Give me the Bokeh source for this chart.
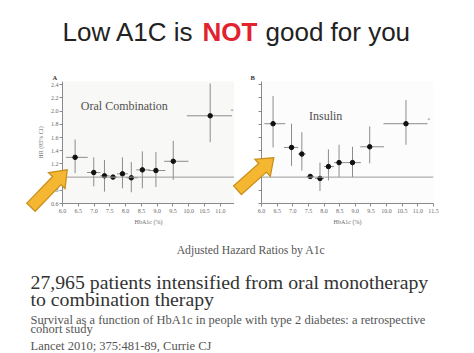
import numpy as np
from bokeh.plotting import figure
from bokeh.models import Range1d, Label, Span, FixedTicker, ColumnDataSource
from bokeh.layouts import column, row
from bokeh.embed import file_html
from bokeh.resources import INLINE

# ---------------- data ----------------
x_ticks = [6.0, 6.5, 7.0, 7.5, 8.0, 8.5, 9.0, 9.5, 10.0, 10.5, 11.0, 11.5]
x_tick_labels = ["6.0", "6.5", "7.0", "7.5", "8.0", "8.5", "9.0", "9.5", "10.0", "10.5", "11.0", "11.5"]
y_ticks = [0.6, 0.8, 1.0, 1.2, 1.4, 1.6, 1.8, 2.0, 2.2, 2.4]
y_tick_labels = ["0.6", "0.8", "1.0", "1.2", "1.4", "1.6", "1.8", "2.0", "2.2", "2.4"]

# Panel A: oral combination
oral_a1c = [6.40, 6.99, 7.33, 7.60, 7.90, 8.18, 8.53, 8.96, 9.51, 10.68]
oral_a1c_lo = [6.11, 6.78, 7.20, 7.49, 7.73, 8.02, 8.34, 8.72, 9.22, 9.94]
oral_a1c_hi = [6.80, 7.20, 7.49, 7.73, 8.07, 8.39, 8.77, 9.26, 9.99, 11.37]
oral_hr = [1.30, 1.07, 1.02, 1.00, 1.05, 0.99, 1.11, 1.10, 1.24, 1.93]
oral_hr_lo = [1.06, 0.86, 0.78, 0.97, 0.83, 0.77, 0.83, 0.85, 0.96, 1.53]
oral_hr_hi = [1.57, 1.30, 1.26, 1.03, 1.30, 1.23, 1.39, 1.38, 1.55, 2.42]

# Panel B: insulin
ins_a1c = [6.37, 6.96, 7.29, 7.56, 7.87, 8.14, 8.48, 8.91, 9.46, 10.62]
ins_a1c_lo = [6.09, 6.72, 7.17, 7.44, 7.71, 8.00, 8.32, 8.70, 9.16, 9.90]
ins_a1c_hi = [6.76, 7.17, 7.42, 7.68, 8.00, 8.32, 8.70, 9.18, 9.92, 11.31]
ins_hr = [1.81, 1.45, 1.35, 1.01, 0.98, 1.16, 1.22, 1.22, 1.46, 1.81]
ins_hr_lo = [1.45, 1.17, 1.10, 0.98, 0.79, 0.95, 1.00, 1.00, 1.21, 1.49]
ins_hr_hi = [2.23, 1.81, 1.68, 1.04, 1.22, 1.42, 1.49, 1.46, 1.77, 2.17]

SERIF = "Liberation Serif"
SANS = "Liberation Sans"
YELLOW = "#f5b731"
ORANGE = "#c98f1c"


def blank(width, height, transparent=False):
    p = figure(width=width, height=height, x_range=Range1d(0, width), y_range=Range1d(height, 0),
               output_backend="svg", toolbar_location=None, x_axis_location=None, y_axis_location=None,
               min_border=0)
    p.xgrid.visible = False
    p.ygrid.visible = False
    p.outline_line_color = None
    if transparent:
        p.background_fill_color = None
        p.border_fill_color = None
    else:
        p.background_fill_color = "white"
        p.border_fill_color = "white"
    return p


# ---------------- title ----------------
top = blank(474, 64)
for x, txt, color, style in [(62, "Low A1C is", "#222222", "normal"),
                             (202, "NOT", "#e0232d", "bold"),
                             (265, "good for you", "#222222", "normal")]:
    top.add_layout(Label(x=x, y=31.5, text=txt, text_font=SANS, text_font_size="26px",
                         text_color=color, text_font_style=style, text_baseline="alphabetic"))


def panel(width, x_end, border_left, border_right, show_ylabels, a1c, a1c_lo, a1c_hi,
          hr, hr_lo, hr_hi, label, label_x, label_y, star_x, star_y):
    p = figure(width=width, height=166, x_range=Range1d(6.0, x_end), y_range=Range1d(0.6, 2.45),
               output_backend="svg", toolbar_location=None,
               min_border_left=border_left, min_border_right=border_right,
               min_border_top=17, min_border_bottom=27)
    p.xgrid.visible = False
    p.ygrid.visible = False
    p.outline_line_color = None
    p.background_fill_color = "#f8f8f6"
    p.border_fill_color = "white"
    for ax in (p.xaxis[0], p.yaxis[0]):
        ax.axis_line_color = "#8a8a8a"
        ax.major_tick_line_color = "#8a8a8a"
        ax.minor_tick_line_color = None
        ax.major_tick_out = 3
        ax.major_tick_in = 0
        ax.major_label_text_font = SERIF
        ax.major_label_text_font_size = "6px"
        ax.major_label_text_color = "#6a6a6a"
        ax.axis_label_text_font = SERIF
        ax.axis_label_text_font_size = "6px"
        ax.axis_label_text_color = "#6a6a6a"
        ax.axis_label_text_font_style = "normal"
    p.xaxis.ticker = FixedTicker(ticks=x_ticks)
    p.xaxis.major_label_overrides = dict(zip(x_ticks, x_tick_labels))
    p.xaxis.major_label_standoff = 2
    p.xaxis.axis_label = "HbA1c (%)"
    p.xaxis.axis_label_standoff = 3
    p.yaxis.ticker = FixedTicker(ticks=y_ticks)
    if show_ylabels:
        p.yaxis.major_label_overrides = dict(zip(y_ticks, y_tick_labels))
        p.yaxis.major_label_standoff = 1
        p.yaxis.axis_label = "HR (95% CI)"
        p.yaxis.axis_label_standoff = 4
    else:
        p.yaxis.major_label_overrides = {t: "" for t in y_ticks}
        p.yaxis.major_label_standoff = 0

    p.add_layout(Span(location=1.0, dimension="width", line_color="#9a9a9a", line_width=1))

    src = ColumnDataSource(dict(x=a1c, x0=a1c_lo, x1=a1c_hi, y=hr, y0=hr_lo, y1=hr_hi))
    p.segment(x0="x", y0="y0", x1="x", y1="y1", source=src, line_color="#8c8c8c", line_width=1)
    p.segment(x0="x0", y0="y", x1="x1", y1="y", source=src, line_color="#8c8c8c", line_width=1)
    p.scatter(x="x", y="y", source=src, size=4.5, marker="circle", fill_color="#111111",
              line_color="#111111")

    p.add_layout(Label(x=label_x, y=label_y, text=label, text_font=SERIF, text_font_size="12px",
                       text_color="#505050", text_baseline="alphabetic"))
    p.add_layout(Label(x=star_x, y=star_y, text="*", text_font=SERIF, text_font_size="6px",
                       text_color="#888888", text_baseline="middle"))
    return p


pa = panel(234, 11.45, 62, 0, True, oral_a1c, oral_a1c_lo, oral_a1c_hi,
           oral_hr, oral_hr_lo, oral_hr_hi, "Oral Combination", 6.58, 2.075, 11.32, 2.0)
pb = panel(240, 11.5, 27, 41, False, ins_a1c, ins_a1c_lo, ins_a1c_hi,
           ins_hr, ins_hr_lo, ins_hr_hi, "Insulin", 7.52, 1.92, 11.30, 1.868)
pb.background_fill_color = "#fcfcfc"

# ---------------- bottom text ----------------
bot = blank(474, 123)
bot.add_layout(Label(x=250.5, y=19.5, text="Adjusted Hazard Ratios by A1c", text_font=SERIF,
                     text_font_size="11.7px", text_color="#555555", text_align="center",
                     text_baseline="alphabetic"))
for y, txt in [(51, "27,965 patients intensified from oral monotherapy"), (68, "to combination therapy")]:
    bot.add_layout(Label(x=30, y=y, text=txt, text_font=SERIF, text_font_size="19.8px",
                         text_color="#333333", text_baseline="alphabetic"))
for y, txt in [(89, "Survival as a function of HbA1c in people with type 2 diabetes: a retrospective"),
               (98.5, "cohort study"), (115.8, "Lancet 2010; 375:481-89, Currie CJ")]:
    bot.add_layout(Label(x=30, y=y, text=txt, text_font=SERIF, text_font_size="12.5px",
                         text_color="#555555", text_baseline="alphabetic"))

# ---------------- overlay: pointer arrows and panel letters (page pixels) ----------------
over = blank(474, 353, transparent=True)
over.styles = {"position": "absolute", "left": "0px", "top": "0px", "z-index": "10"}

# tail (x, y), tip (x, y)
arrow_tails = [(30.5, 206.7), (237.0, 189.7)]
arrow_tips = [(66.7, 169.3), (273.3, 157.3)]
for (tx, ty), (px, py) in zip(arrow_tails, arrow_tips):
    t = np.array([tx, ty]); tip = np.array([px, py])
    u = (tip - t) / np.linalg.norm(tip - t)
    n = np.array([-u[1], u[0]])
    base = tip - u * 15.0
    pts = [t + n * 5.8, base + n * 5.8, base + n * 11.5, tip, base - n * 11.5, base - n * 5.8, t - n * 5.8]
    over.patch([q[0] for q in pts], [q[1] for q in pts], fill_color=YELLOW, line_color=ORANGE,
               line_width=1.3, line_join="miter")

for x, letter in [(52, "A"), (250, "B")]:
    over.add_layout(Label(x=x, y=77, text=letter, text_font=SERIF, text_font_size="6.5px",
                          text_color="#333333", text_font_style="bold", text_baseline="alphabetic"))

layout = column(top, row(pa, pb), bot, over)
open("out.html", "w").write(file_html(layout, INLINE))
